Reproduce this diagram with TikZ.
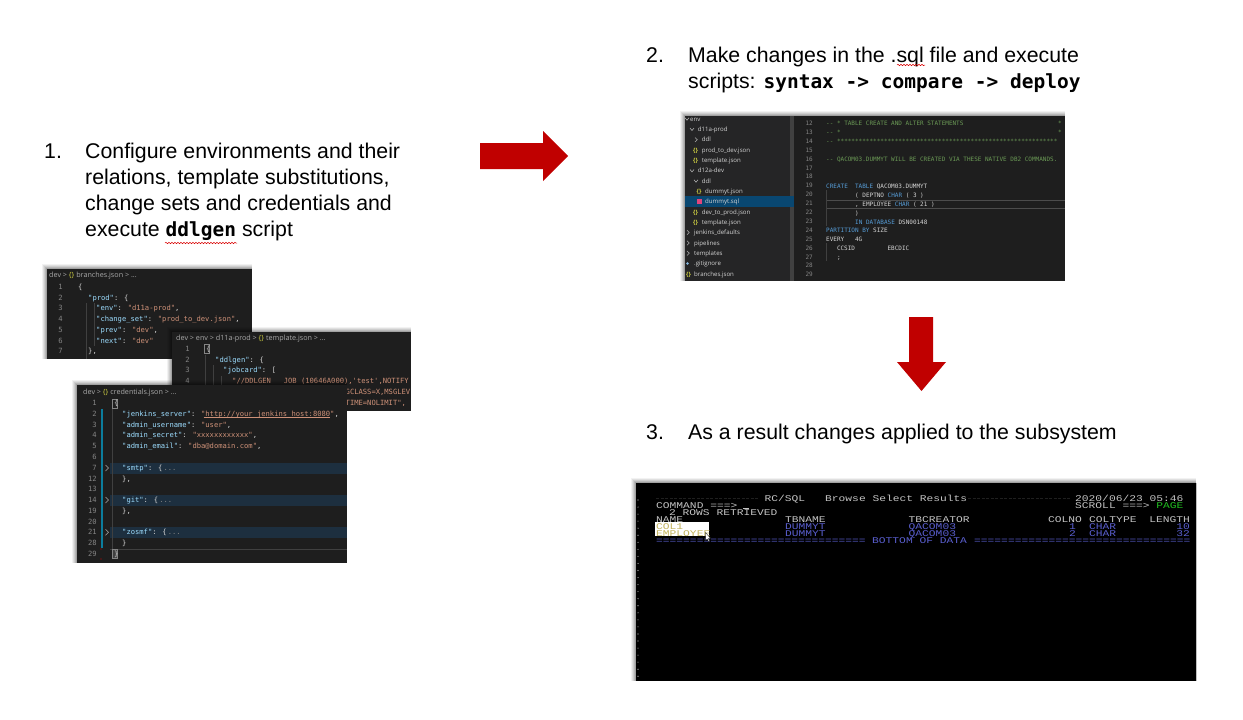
\documentclass[tikz,border=0pt]{standalone}
\usepackage{fontspec}
\setmainfont{Liberation Sans}
\newfontfamily\cfont{DejaVu Sans Mono}
\newfontfamily\termfont[FakeStretch=1.28]{Liberation Mono}
\newfontfamily\uifont{Open Sans}
\usetikzlibrary{decorations.pathmorphing}
\definecolor{bgd}{HTML}{1E1E1E}
\definecolor{side}{HTML}{252526}
\definecolor{key}{HTML}{9CDCFE}
\definecolor{str}{HTML}{CE9178}
\definecolor{cmt}{HTML}{6A9955}
\definecolor{kw}{HTML}{569CD6}
\definecolor{lnum}{HTML}{858585}
\definecolor{foldbar}{HTML}{1D2F3F}
\definecolor{gitbar}{HTML}{0C7D9D}
\definecolor{guide}{HTML}{404040}
\definecolor{selrow}{HTML}{094771}
\definecolor{jsonic}{HTML}{CBCB41}
\definecolor{pinkic}{HTML}{E0457B}
\definecolor{fg}{HTML}{D4D4D4}
\definecolor{crumb}{HTML}{A9A9A9}
\definecolor{redarrow}{HTML}{C00000}
\definecolor{termblue}{HTML}{5A5FD0}
\definecolor{termwhite}{HTML}{C4C4C4}
\definecolor{termyellow}{HTML}{C2B25C}
\definecolor{termgreen}{HTML}{20C020}
\newcounter{nn}
\newcommand{\K}[1]{\textcolor{key}{#1}}
\newcommand{\St}[1]{\textcolor{str}{#1}}
\newcommand{\Bl}[1]{\textcolor{kw}{#1}}
\newcommand{\txt}[4]{\stepcounter{nn}\node[#1,name=n\thenn] at (#2,#3) {#4};}
\newcommand{\shadowrect}[4]{%
  \foreach \s/\o in {5/.05,4/.07,3/.08,2/.10,1/.12}
    \fill[black,opacity=\o] (#1-\s,#2-\s) rectangle (#3,#4);}
\tikzset{
  body/.style={anchor=base west,inner sep=0pt,font=\fontsize{21.3}{25}\selectfont,text=black},
  code/.style={anchor=base west,inner sep=0pt,yshift=-2.5pt,text=fg,font=\cfont\fontsize{7.15}{9}\selectfont},
  lnumr/.style={anchor=base east,inner sep=0pt,yshift=-2.5pt,text=lnum,font=\cfont\fontsize{7.15}{9}\selectfont},
  sql/.style={anchor=base west,inner sep=0pt,yshift=-2.2pt,text=fg,font=\cfont\fontsize{6}{8}\selectfont},
  sqln/.style={anchor=base east,inner sep=0pt,yshift=-2.2pt,text=lnum,font=\cfont\fontsize{6}{8}\selectfont},
  crumbt/.style={anchor=base west,inner sep=0pt,yshift=-2.5pt,text=crumb,font=\uifont\fontsize{7.2}{9}\selectfont},
  tree/.style={anchor=base west,inner sep=0pt,yshift=-2.2pt,text=fg,font=\uifont\fontsize{6.1}{8}\selectfont},
  jic/.style={anchor=base west,inner sep=0pt,yshift=-2.2pt,text=jsonic,font=\uifont\bfseries\fontsize{6}{8}\selectfont},
  term/.style={anchor=base west,inner sep=0pt,yshift=-3pt,text=termwhite,font=\termfont\fontsize{8.8}{9}\selectfont},
  termr/.style={term,anchor=base east},
  chev/.style={draw=lnum!70!white,line width=.6pt,fill=none},
  wavy/.style={draw=red!85!black,line width=.5pt,decorate,decoration={snake,amplitude=.7pt,segment length=3pt}},
  arrowfill/.style={fill=redarrow,draw=none}
}
\begin{document}
\begin{tikzpicture}[x=1pt,y=-1pt]
\useasboundingbox (0,0) rectangle (1243,720);
\fill[white] (0,0) rectangle (1243,720);

% --- step texts
\txt{body}{44}{158}{1.}
\txt{body}{85}{158}{Configure environments and their}
\txt{body}{85}{184}{relations, template substitutions,}
\txt{body}{85}{210}{change sets and credentials and}
\txt{body}{85}{236}{execute {\cfont\bfseries\fontsize{19.5}{25}\selectfont ddlgen} script}
\draw[wavy] (165,243) -- (237,243);
\txt{body}{646}{62}{2.}
\txt{body}{688}{62}{Make changes in the .sql file and execute}
\txt{body}{688}{88}{scripts: {\cfont\bfseries\fontsize{19.5}{25}\selectfont syntax -> compare -> deploy}}
\draw[wavy] (897,65) -- (925,65);
\txt{body}{646}{439}{3.}
\txt{body}{688}{439}{As a result changes applied to the subsystem}

% --- big arrows
\fill[arrowfill] (480,143) -- (543,143) -- (543,131) -- (568,156) -- (543,181) -- (543,169) -- (480,169) -- cycle;
\fill[arrowfill] (909,317) -- (933,317) -- (933,362) -- (946,362) -- (921.5,391) -- (897,362) -- (909,362) -- cycle;

% --- panel A: branches.json
\shadowrect{47}{269}{252}{359}
\fill[bgd] (47,269) rectangle (252,359);
\begin{scope}
\clip (47,269) rectangle (252,359);
\txt{crumbt}{49}{275}{dev \textgreater{} {\color{jsonic}\{\}} branches.json \textgreater{} ...}
\foreach \n/\yy in {1/287,2/297.7,3/308.4,4/319.1,5/329.8,6/340.5,7/351.2}{\txt{lnumr}{63}{\yy}{\n}}
\draw[guide,line width=.4pt] (86.5,303) -- (86.5,359);
\draw[guide,line width=.4pt] (94.5,303) -- (94.5,346);
\txt{code}{78}{287}{\{}
\txt{code}{88}{297.7}{\K{"prod"}: \{}
\txt{code}{96}{308.4}{\K{"env"}: \St{"d11a-prod"},}
\txt{code}{96}{319.1}{\K{"change\_set"}: \St{"prod\_to\_dev.json"},}
\txt{code}{96}{329.8}{\K{"prev"}: \St{"dev"},}
\txt{code}{96}{340.5}{\K{"next"}: \St{"dev"}}
\txt{code}{88}{351.2}{\},}
\end{scope}

% --- panel B: template.json
\shadowrect{172}{332}{411}{411}
\fill[bgd] (172,332) rectangle (411,411);
\begin{scope}
\clip (172,332) rectangle (411,411);
\txt{crumbt}{176}{338}{dev \textgreater{} env \textgreater{} d11a-prod \textgreater{} {\color{jsonic}\{\}} template.json \textgreater{} ...}
\foreach \n/\yy in {1/349,2/359.7,3/370.4,4/381.1}{\txt{lnumr}{190}{\yy}{\n}}
\draw[guide,line width=.4pt] (205,355) -- (205,411);
\draw[guide,line width=.4pt] (213.5,365) -- (213.5,411);
\draw[guide,line width=.4pt] (221.5,376) -- (221.5,411);
\draw[lnum,line width=.3pt] (204.5,344.5) rectangle (209.5,353.5);
\txt{code}{206}{349}{\{}
\txt{code}{215}{359.7}{\K{"ddlgen"}: \{}
\txt{code}{223}{370.4}{\K{"jobcard"}: [}
\txt{code}{232}{381.1}{\St{"//DDLGEN~~~JOB (10646A000),'test',NOTIFY}}
\txt{code}{345.5}{392.4}{\St{GCLASS=X,MSGLEV}}
\txt{code}{345.5}{403}{\St{TIME=NOLIMIT",}}
\end{scope}

% --- panel C: credentials.json
\shadowrect{77}{385}{347}{563}
\fill[bgd] (77,385) rectangle (347,563);
\fill[foldbar] (110,463) rectangle (347,473.5);
\fill[foldbar] (110,495) rectangle (347,505.5);
\fill[foldbar] (110,527) rectangle (347,538);
\fill[gitbar] (101,409) rectangle (102.6,548);
\fill[red!80!black] (101,549) circle (.7);
\fill[red!80!black] (101,559) circle (.7);
\draw[guide,line width=.4pt] (112.5,408) -- (112.5,553);
\draw[guide,line width=.3pt] (110,549) -- (347,549);
\txt{crumbt}{83}{392}{dev \textgreater{} {\color{jsonic}\{\}} credentials.json \textgreater{} ...}
\foreach \n/\yy in {1/403.3,2/414,3/424.7,4/435.4,5/446,6/457.3,7/468,12/478.7,13/489.3,14/500,19/510.7,20/521.7,21/532.3,28/543.3,29/554}{\txt{lnumr}{97}{\yy}{\n}}
\draw[lnum,line width=.3pt] (112,398.8) rectangle (117,407.8);
\txt{code}{114}{403.3}{\{}
\txt{code}{122}{414}{\K{"jenkins\_server"}: \St{"http://your\_jenkins\_host:8080"},}
\draw[str,line width=.4pt] (203.5,417.5) -- (330,417.5);
\txt{code}{122}{424.7}{\K{"admin\_username"}: \St{"user"},}
\txt{code}{122}{435.4}{\K{"admin\_secret"}: \St{"xxxxxxxxxxxx"},}
\txt{code}{122}{446}{\K{"admin\_email"}: \St{"dba@domain.com"},}
\txt{code}{122}{468}{\K{"smtp"}: \{\textcolor{lnum}{\,...}}
\txt{code}{122}{478.7}{\},}
\txt{code}{122}{500}{\K{"git"}: \{\textcolor{lnum}{\,...}}
\txt{code}{122}{510.7}{\},}
\txt{code}{122}{532.3}{\K{"zosmf"}: \{\textcolor{lnum}{\,...}}
\txt{code}{122}{543.3}{\}}
\draw[lnum,line width=.3pt,fill=guide] (112,549.5) rectangle (117,558.5);
\txt{code}{114}{554}{\}}
\foreach \yy in {468,500,532.3}{\draw[chev] (105.5,\yy-3) -- (108.5,\yy) -- (105.5,\yy+3);}

% --- panel D: SQL editor
\shadowrect{685}{116}{1065}{281}
\fill[bgd] (685,116) rectangle (1065,281);
\fill[side] (685,116) rectangle (790,281);
\fill[black!75!white] (790,116) rectangle (794,281);
\fill[selrow] (685,196) rectangle (794,207);
\begin{scope}
\clip (685,116) rectangle (1065,281);
% tree
\txt{tree}{690}{119}{env}
\txt{tree}{697.7}{129.3}{d11a-prod}
\txt{tree}{701.7}{139.7}{ddl}
\txt{jic}{693}{150}{\{\}}
\txt{tree}{701.7}{150}{prod\_to\_dev.json}
\txt{jic}{693}{160.3}{\{\}}
\txt{tree}{701.7}{160.3}{template.json}
\txt{tree}{697.7}{170.7}{d12a-dev}
\txt{tree}{701.7}{181}{ddl}
\txt{jic}{696.5}{191.3}{\{\}}
\txt{tree}{705}{191.3}{dummyt.json}
\fill[pinkic] (697,199) rectangle (702,204);
\txt{tree}{705}{201.6}{dummyt.sql}
\txt{jic}{693}{212}{\{\}}
\txt{tree}{701.7}{212}{dev\_to\_prod.json}
\txt{jic}{693}{222.3}{\{\}}
\txt{tree}{701.7}{222.3}{template.json}
\txt{tree}{694}{232.5}{jenkins\_defaults}
\txt{tree}{694}{243}{pipelines}
\txt{tree}{694}{253.2}{templates}
\fill[kw!70!white] (687.5,263.5) circle (1.3);
\txt{tree}{694}{263.5}{.gitignore}
\txt{jic}{686}{274}{\{\}}
\txt{tree}{694}{274}{branches.json}
% chevrons open
\foreach \cx/\cy in {687/119,692/129.3,692/170.7,696/181}{\draw[chev] (\cx-2,\cy-1.2) -- (\cx,\cy+1.2) -- (\cx+2,\cy-1.2);}
% chevrons closed
\foreach \cx/\cy in {696/139.7,688/232.5,688/243,688/253.2}{\draw[chev] (\cx-1,\cy-2.2) -- (\cx+1.3,\cy) -- (\cx-1,\cy+2.2);}
% line numbers
\foreach \n in {12,...,29}{\pgfmathsetmacro{\yy}{123.3+8.9*(\n-12)}\txt{sqln}{813}{\yy}{\n}}
\draw[black!70!white,line width=.3pt] (826,200) -- (1065,200);
\draw[black!70!white,line width=.3pt] (826,208.6) -- (1065,208.6);
\draw[guide,line width=.4pt] (826.5,190) -- (826.5,226);
\draw[guide,line width=.4pt] (826.5,243) -- (826.5,261);
\txt{sql}{826}{123.3}{\textcolor{cmt}{-- * TABLE CREATE AND ALTER STATEMENTS}}
\txt{sql}{1058}{123.3}{\textcolor{cmt}{*}}
\txt{sql}{826}{132.2}{\textcolor{cmt}{-- *}}
\txt{sql}{1058}{132.2}{\textcolor{cmt}{*}}
\txt{sql}{826}{141.1}{\textcolor{cmt}{-- *************************************************************}}
\txt{sql}{826}{159}{\textcolor{cmt}{-- QACOM03.DUMMYT WILL BE CREATED VIA THESE NATIVE DB2 COMMANDS.}}
\txt{sql}{826}{186}{\Bl{CREATE}~~\Bl{TABLE} QACOM03.DUMMYT}
\txt{sql}{855}{195}{( DEPTNO \Bl{CHAR} ( 3 )}
\txt{sql}{855}{204}{, EMPLOYEE \Bl{CHAR} ( 21 )}
\txt{sql}{855}{213}{)}
\txt{sql}{855}{222}{\Bl{IN DATABASE} DSN00148}
\txt{sql}{826}{230.5}{\Bl{PARTITION BY} SIZE}
\txt{sql}{826}{239}{EVERY~~~4G}
\txt{sql}{836.8}{248}{CCSID~~~~~~~~~EBCDIC}
\txt{sql}{836.8}{257}{;}
\end{scope}

% --- panel E: terminal
\shadowrect{636}{483}{1196}{681}
\fill[black] (636,483) rectangle (1196,681);
\fill[black!25] (1196,483) rectangle (1197,681);
\foreach \i in {0,...,25}{\fill[termwhite] (638,{500+7.05*\i}) circle (.55);}
\draw[black!88,line width=.7pt,dash pattern=on 3pt off 1.5pt] (656,498) -- (758,498);
\draw[black!88,line width=.7pt,dash pattern=on 3pt off 1.5pt] (968,498) -- (1070,498);
\fill[white] (655,522) rectangle (709,536);
\txt{term}{764.5}{498}{RC/SQL}
\txt{term}{825}{498}{Browse Select Results}
\txt{term}{1075}{498}{2020/06/23 05:46}
\txt{term}{656}{505}{COMMAND ===>}
\txt{term}{1075}{505}{SCROLL ===> \textcolor{termgreen}{PAGE}}
\draw[termwhite,line width=.6pt] (743,508.5) -- (749,508.5);
\txt{term}{669}{512}{2 ROWS RETRIEVED}
\txt{term}{656}{519}{NAME}
\txt{term}{785}{519}{TBNAME}
\txt{term}{908.5}{519}{TBCREATOR}
\txt{term}{1048}{519}{COLNO}
\txt{term}{1089}{519}{COLTYPE}
\txt{termr}{1190}{519}{LENGTH}
\txt{term}{656}{526}{\textcolor{termyellow}{COL1}}
\txt{term}{785}{526}{\textcolor{termblue}{DUMMYT}}
\txt{term}{908.5}{526}{\textcolor{termblue}{QACOM03}}
\txt{termr}{1076}{526}{\textcolor{termblue}{1}}
\txt{term}{1089}{526}{\textcolor{termblue}{CHAR}}
\txt{termr}{1190}{526}{\textcolor{termblue}{10}}
\txt{term}{656}{533}{\textcolor{termyellow}{EMPLOYEE}}
\txt{term}{785}{533}{\textcolor{termblue}{DUMMYT}}
\txt{term}{908.5}{533}{\textcolor{termblue}{QACOM03}}
\txt{termr}{1076}{533}{\textcolor{termblue}{2}}
\txt{term}{1089}{533}{\textcolor{termblue}{CHAR}}
\txt{termr}{1190}{533}{\textcolor{termblue}{32}}
\txt{term}{656}{540}{\textcolor{termblue}{===============================}}
\txt{term}{872}{540}{\textcolor{termblue}{BOTTOM OF DATA}}
\txt{term}{974}{540}{\textcolor{termblue}{================================}}
\fill[white,draw=black,line width=.25pt] (705.5,532.5) -- (705.5,540.5) -- (707.3,539) -- (708.6,541.5) -- (709.6,541) -- (708.4,538.6) -- (710.6,538.4) -- cycle;
\end{tikzpicture}
\end{document}
